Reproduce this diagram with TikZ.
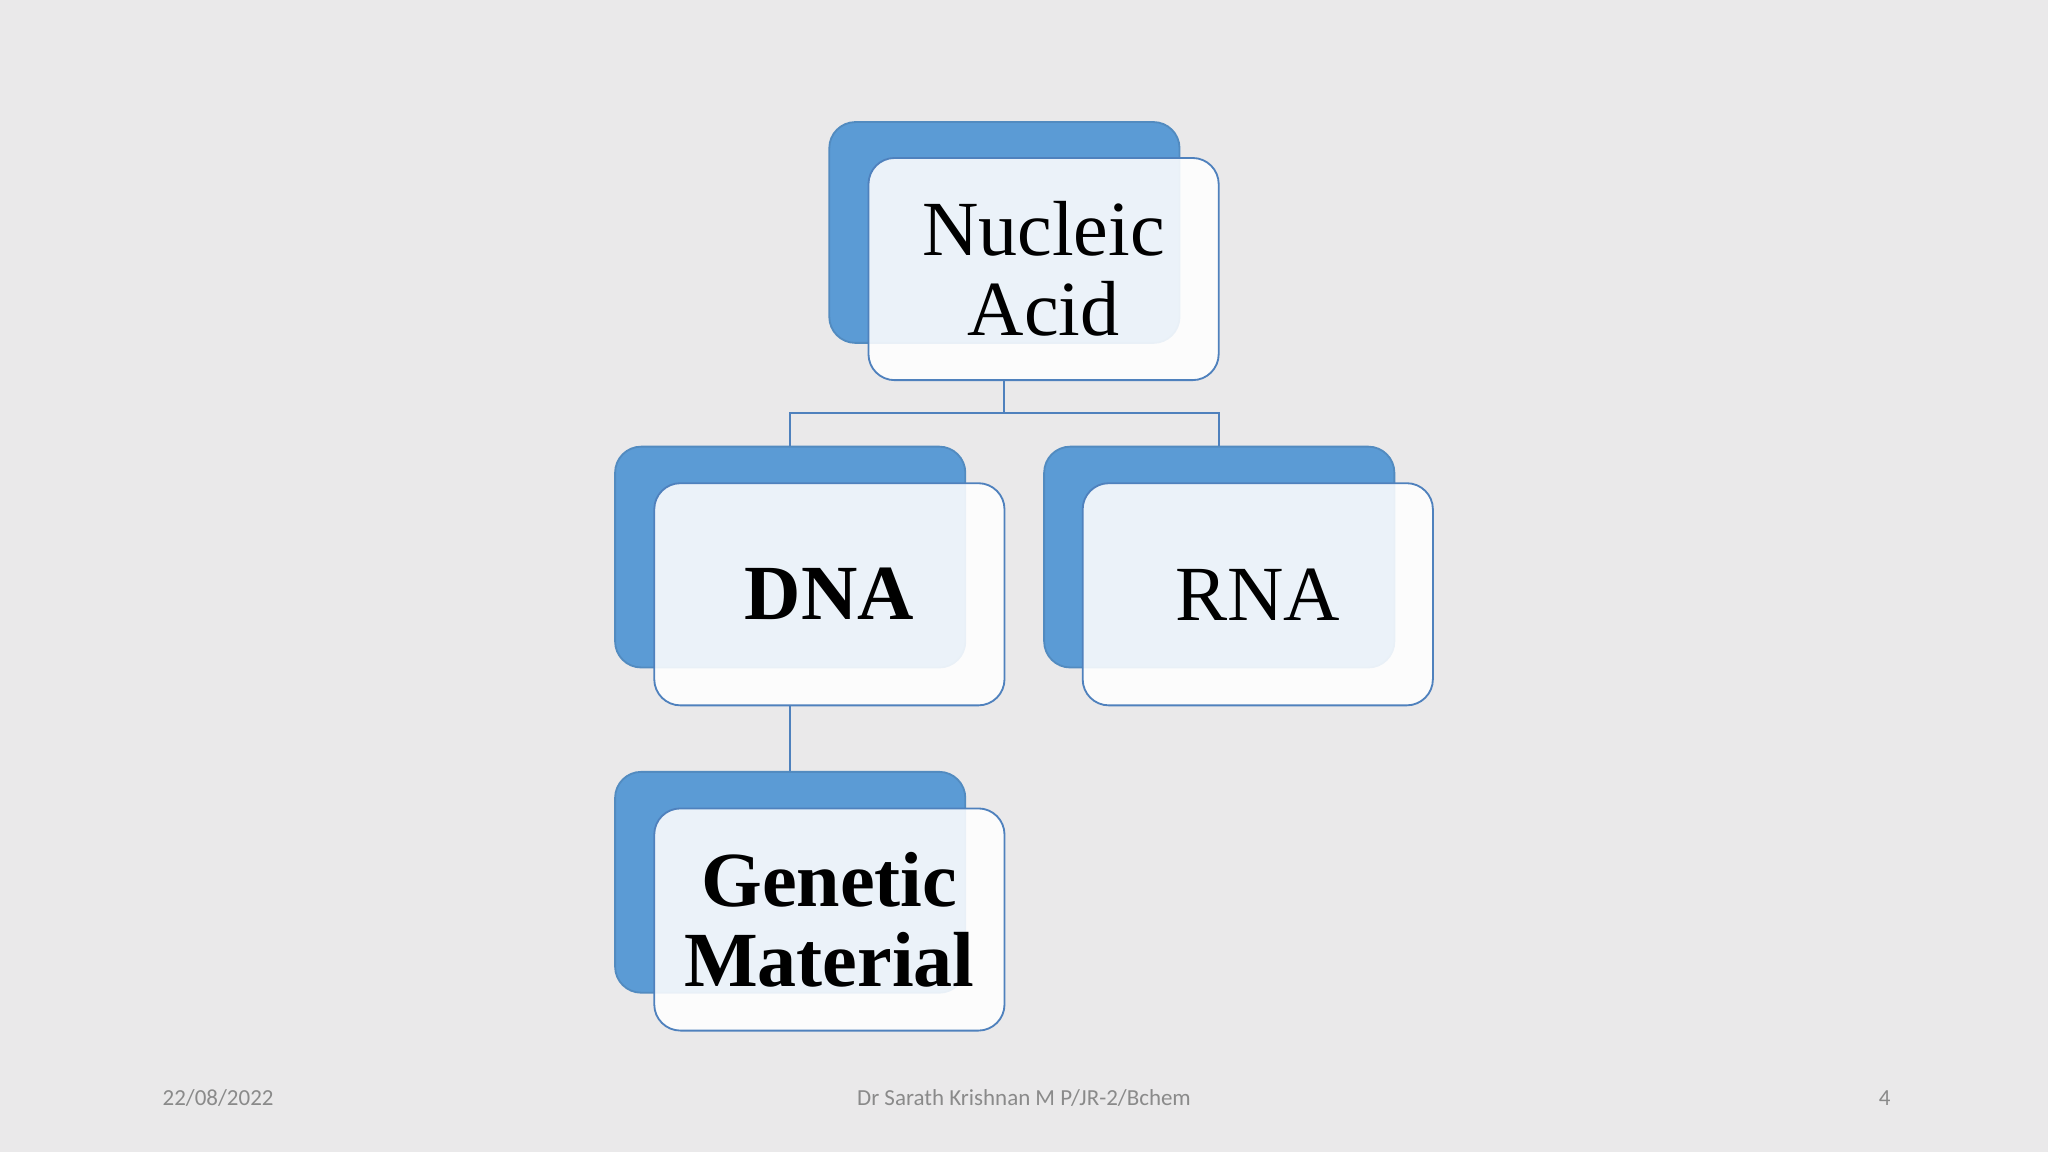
\documentclass[tikz,border=0pt]{standalone}
\usepackage{fontspec}
\setmainfont{Liberation Serif}
\newfontfamily\footfont{Carlito}
\usetikzlibrary{positioning}
\definecolor{slidebg}{HTML}{EAE9EA}
\definecolor{backblue}{HTML}{5B9BD5}
\definecolor{edgeblue}{HTML}{4F81BD}
\definecolor{footgray}{HTML}{8A8A8A}
\begin{document}
\begin{tikzpicture}[
x = 0.01cm, y = -0.01cm,
back box/.style = {
	fill = backblue,
	draw = backblue!90!black,
	rounded corners = 2mm,
	minimum width = 2.68cm,
	minimum height = 1.69cm
},
front box/.style = {
	fill = white,
	fill opacity = 0.88,
	text opacity = 1,
	draw = edgeblue,
	rounded corners = 2mm,
	minimum width = 2.68cm,
	minimum height = 1.70cm,
	align = center,
	font = \fontsize{17}{17.5}\selectfont
},
link/.style = {
	draw = edgeblue,
	thin
},
footer/.style = {
	font = \footfont\fontsize{5}{6}\selectfont,
	text = footgray
}
]
\fill [slidebg] (0,0) rectangle (1568,882);

% back panels
\node [back box] (nab) at (769,178) {};
\node [back box] (dnab) at (605,426.5) {};
\node [back box] (rnab) at (933.5,426.5) {};
\node [back box] (genb) at (605,675.5) {};

% connectors
\coordinate (split) at (769,316);
\draw [link] (nab.center |- 0,291) -- (split);
\draw [link] (split) -| (dnab.north);
\draw [link] (split) -| (rnab.north);
\draw [link] (dnab.center |- 0,540) -- (genb.north);

% front panels
\node [front box] (na) at (799,206) {Nucleic\\Acid};
\node [front box, font = \fontsize{17}{17.5}\selectfont\bfseries] (dna) at (635,455) {DNA};
\node [front box] (rna) at (963,455) {RNA};
\node [front box, font = \fontsize{17}{17.5}\selectfont\bfseries] (gen) at (635,704) {Genetic\\Material};

% footer
\node [footer] (date) at (167,841) {22/08/2022};
\node [footer] (auth) at (784,841) {Dr Sarath Krishnan M P/JR-2/Bchem};
\node [footer] (page) at (1443,841) {4};
\end{tikzpicture}
\end{document}
